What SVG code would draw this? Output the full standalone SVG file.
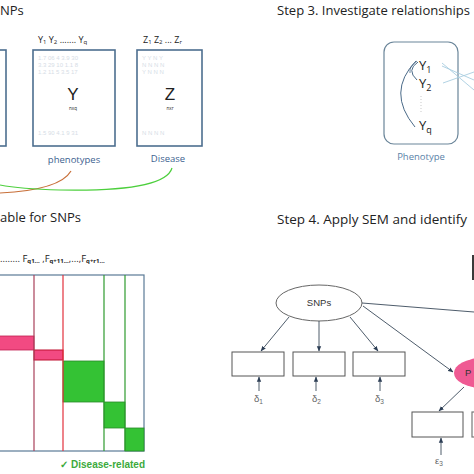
<svg xmlns="http://www.w3.org/2000/svg" width="474" height="474" viewBox="0 0 474 474">
<defs>
<style>
.t{font-family:"Open Sans","Liberation Sans",sans-serif;fill:#222}
.title{font-size:13px}
.blue{fill:#3d5f8f}
.box{fill:#fff;stroke:#4d6e8f;stroke-width:1.6}
.faint{font-family:"Liberation Sans",sans-serif;font-size:6px;fill:#d6dde6}
.rect{fill:#fff;stroke:#555;stroke-width:1}
.arr{stroke:#3a4a5a;stroke-width:0.9;fill:none;marker-end:url(#ah)}
.sem{font-family:"Liberation Sans",sans-serif;fill:#333}
.err{font-family:"Liberation Sans",sans-serif;fill:#666;font-size:9.5px}
</style>
<marker id="ah" viewBox="0 0 10 10" refX="9" refY="5" markerWidth="6" markerHeight="6" orient="auto"><path d="M0,1 L10,5 L0,9 z" fill="#2c3e55"/></marker>
</defs>
<rect width="474" height="474" fill="#fff"/>

<!-- Step 1 partial -->
<g id="step1">
<text class="t title" x="0" y="15">NPs</text>
<rect class="box" x="-10" y="50" width="16" height="96"/>
</g>
<g id="Ybox">
<rect class="box" x="33" y="50" width="82" height="96"/>
<text class="t" font-size="9" x="38" y="43">Y<tspan font-size="6" dy="1">1</tspan><tspan dy="-1"> Y</tspan><tspan font-size="6" dy="1">2</tspan><tspan dy="-1"> ....... Y</tspan><tspan font-size="6" dy="1">q</tspan></text>
<text class="faint" x="38" y="60">1.7 06  4   3.9 30</text>
<text class="faint" x="38" y="67">3.3 29 10  1.1  8</text>
<text class="faint" x="38" y="74">1.2 11  5   3.5 17</text>
<text class="faint" x="38" y="135">1.5 90    4.1 9   31</text>
<text font-family="Liberation Sans,sans-serif" fill="#222" font-size="17" x="73" y="100" text-anchor="middle">Y</text>
<text class="t" font-size="4.5" x="73" y="110" text-anchor="middle">nxq</text>
<text class="t blue" font-size="9.5" x="74" y="163" text-anchor="middle">phenotypes</text>
</g>
<g id="Zbox">
<rect class="box" x="137" y="50" width="65" height="96"/>
<text class="t" font-size="9" x="143" y="43">Z<tspan font-size="6" dy="1">1</tspan><tspan dy="-1"> Z</tspan><tspan font-size="6" dy="1">2</tspan><tspan dy="-1"> ... Z</tspan><tspan font-size="6" dy="1">r</tspan></text>
<text class="faint" x="142" y="60">Y   Y    N  Y</text>
<text class="faint" x="142" y="67">N   N    N  N</text>
<text class="faint" x="142" y="74">Y   N    N  N</text>
<text class="faint" x="142" y="135">N   N    N  N</text>
<text font-family="Liberation Sans,sans-serif" fill="#222" font-size="17" x="170" y="100" text-anchor="middle">Z</text>
<text class="t" font-size="4.5" x="170" y="110" text-anchor="middle">nxr</text>
<text class="t blue" font-size="9.5" x="168" y="162" text-anchor="middle">Disease</text>
</g>
<g id="connectors-top">
<path d="M71,171 Q60,190 0,193" fill="none" stroke="#c8703a" stroke-width="1.2"/>
<path d="M172,168 Q165,192 60,190 Q20,189 0,185" fill="none" stroke="#4ccf3c" stroke-width="1.2"/>
</g>

<!-- Step 3 -->
<g id="step3">
<text class="t title" x="277" y="15" textLength="193" lengthAdjust="spacingAndGlyphs">Step 3. Investigate relationships</text>
<rect x="384" y="42" width="74" height="102" rx="10" fill="#fff" stroke="#6a8599" stroke-width="1.2"/>
<text class="t" font-size="13" x="419" y="70">Y<tspan font-size="9" dy="3">1</tspan></text>
<text class="t" font-size="13" x="419" y="88">Y<tspan font-size="9" dy="3">2</tspan></text>
<text class="t" font-size="13" x="419" y="130">Y<tspan font-size="9" dy="3">q</tspan></text>
<line x1="421" y1="96" x2="421" y2="114" stroke="#bbb" stroke-width="0.8" stroke-dasharray="1,2"/>
<path d="M416,61 Q386,92 415,127" fill="none" stroke="#4a6a88" stroke-width="1"/>
<path d="M418,62 Q406,70 417,80" fill="none" stroke="#4a6a88" stroke-width="1"/>
<path d="M417,61 Q409,66 410,73" fill="none" stroke="#4a6a88" stroke-width="0.8"/>
<line x1="442" y1="63" x2="474" y2="90" stroke="#a8cde0" stroke-width="0.9"/>
<line x1="442" y1="66" x2="474" y2="80" stroke="#a8cde0" stroke-width="0.9"/>
<line x1="443" y1="83" x2="474" y2="72" stroke="#a8cde0" stroke-width="0.9"/>
<text font-family="Open Sans,Liberation Sans,sans-serif" font-size="9.5" x="421" y="160" text-anchor="middle" fill="#5a82a8">Phenotype</text>
</g>

<!-- Step 2 table -->
<g id="step2">
<text class="t title" x="0" y="222">able for SNPs</text>
<text class="t" font-size="9.5" x="0" y="262">........ F<tspan font-size="6" font-weight="bold" dy="1">q1...</tspan><tspan dy="-1"> ,F</tspan><tspan font-size="6" font-weight="bold" dy="1">q+11...</tspan><tspan dy="-1">,...,F</tspan><tspan font-size="6" font-weight="bold" dy="1">q+r1...</tspan></text>
<rect x="-10" y="275" width="154" height="176" fill="#fff" stroke="#5a7a96" stroke-width="1.2"/>
<rect x="-10" y="336" width="44" height="14" fill="#f24a82" stroke="#c02050" stroke-width="0.8"/>
<rect x="34" y="350" width="29" height="10" fill="#f24a82" stroke="#c01030" stroke-width="1"/>
<rect x="63" y="361" width="41" height="41" fill="#34c234" stroke="#2a8a2a" stroke-width="0.8"/>
<rect x="104" y="402" width="21" height="26" fill="#34c234" stroke="#2a8a2a" stroke-width="0.8"/>
<rect x="125" y="428" width="19" height="23" fill="#34c234" stroke="#2a8a2a" stroke-width="0.8"/>
<line x1="34" y1="275" x2="34" y2="451" stroke="#a8405a" stroke-width="1.2"/>
<line x1="63" y1="275" x2="63" y2="451" stroke="#e2303c" stroke-width="1.2"/>
<line x1="104" y1="275" x2="104" y2="451" stroke="#2e9a2e" stroke-width="1.2"/>
<line x1="125" y1="275" x2="125" y2="451" stroke="#2e9a2e" stroke-width="1.2"/>
<text font-family="Liberation Sans,sans-serif" font-size="10" font-weight="bold" x="145" y="468" text-anchor="end" fill="#3caa3c">✓ Disease-related</text>
</g>

<!-- Step 4 -->
<g id="step4-title">
<text class="t title" x="277" y="224" textLength="190" lengthAdjust="spacingAndGlyphs">Step 4. Apply SEM and identify</text>
<rect x="472" y="255" width="4" height="25" fill="#3a3a3a"/>
</g>
<g id="SNPs">
<ellipse cx="319" cy="303" rx="43" ry="18" fill="#fff" stroke="#666" stroke-width="1"/>
<text class="sem" font-size="9.5" x="319" y="306" text-anchor="middle">SNPs</text>
</g>
<g id="P">
<ellipse cx="482" cy="373" rx="28" ry="15" fill="#ef5a93"/>
<text class="sem" font-size="9.5" x="465" y="376">P</text>
</g>
<g id="r1"><rect class="rect" x="232" y="352" width="52" height="24"/></g>
<g id="r2"><rect class="rect" x="293" y="352" width="52" height="24"/></g>
<g id="r3"><rect class="rect" x="353" y="352" width="52" height="24"/></g>
<g id="r4"><rect class="rect" x="412" y="412" width="51" height="25"/></g>
<g id="r5"><rect x="472" y="412" width="10" height="25" fill="#fff" stroke="#777" stroke-width="1.2"/></g>
<g id="errors">
<text class="err" x="254" y="402">δ<tspan font-size="6.5" dy="2">1</tspan></text>
<text class="err" x="312" y="402">δ<tspan font-size="6.5" dy="2">2</tspan></text>
<text class="err" x="375" y="402">δ<tspan font-size="6.5" dy="2">3</tspan></text>
<text class="err" x="435" y="464">ε<tspan font-size="6.5" dy="2">3</tspan></text>
</g>
<g id="connectors">
<line class="arr" x1="289" y1="317" x2="261" y2="351"/>
<line class="arr" x1="319" y1="321" x2="319" y2="351"/>
<line class="arr" x1="350" y1="317" x2="378" y2="351"/>
<line x1="362" y1="303" x2="474" y2="312" stroke="#3a4a5a" stroke-width="0.9"/>
<line class="arr" x1="363" y1="306" x2="453" y2="372"/>
<line class="arr" x1="464" y1="387" x2="439" y2="411"/>
<line class="arr" x1="259" y1="391" x2="259" y2="377"/>
<line class="arr" x1="316" y1="391" x2="316" y2="377"/>
<line class="arr" x1="380" y1="391" x2="380" y2="377"/>
<line class="arr" x1="441" y1="455" x2="441" y2="438"/>
</g>
</svg>
